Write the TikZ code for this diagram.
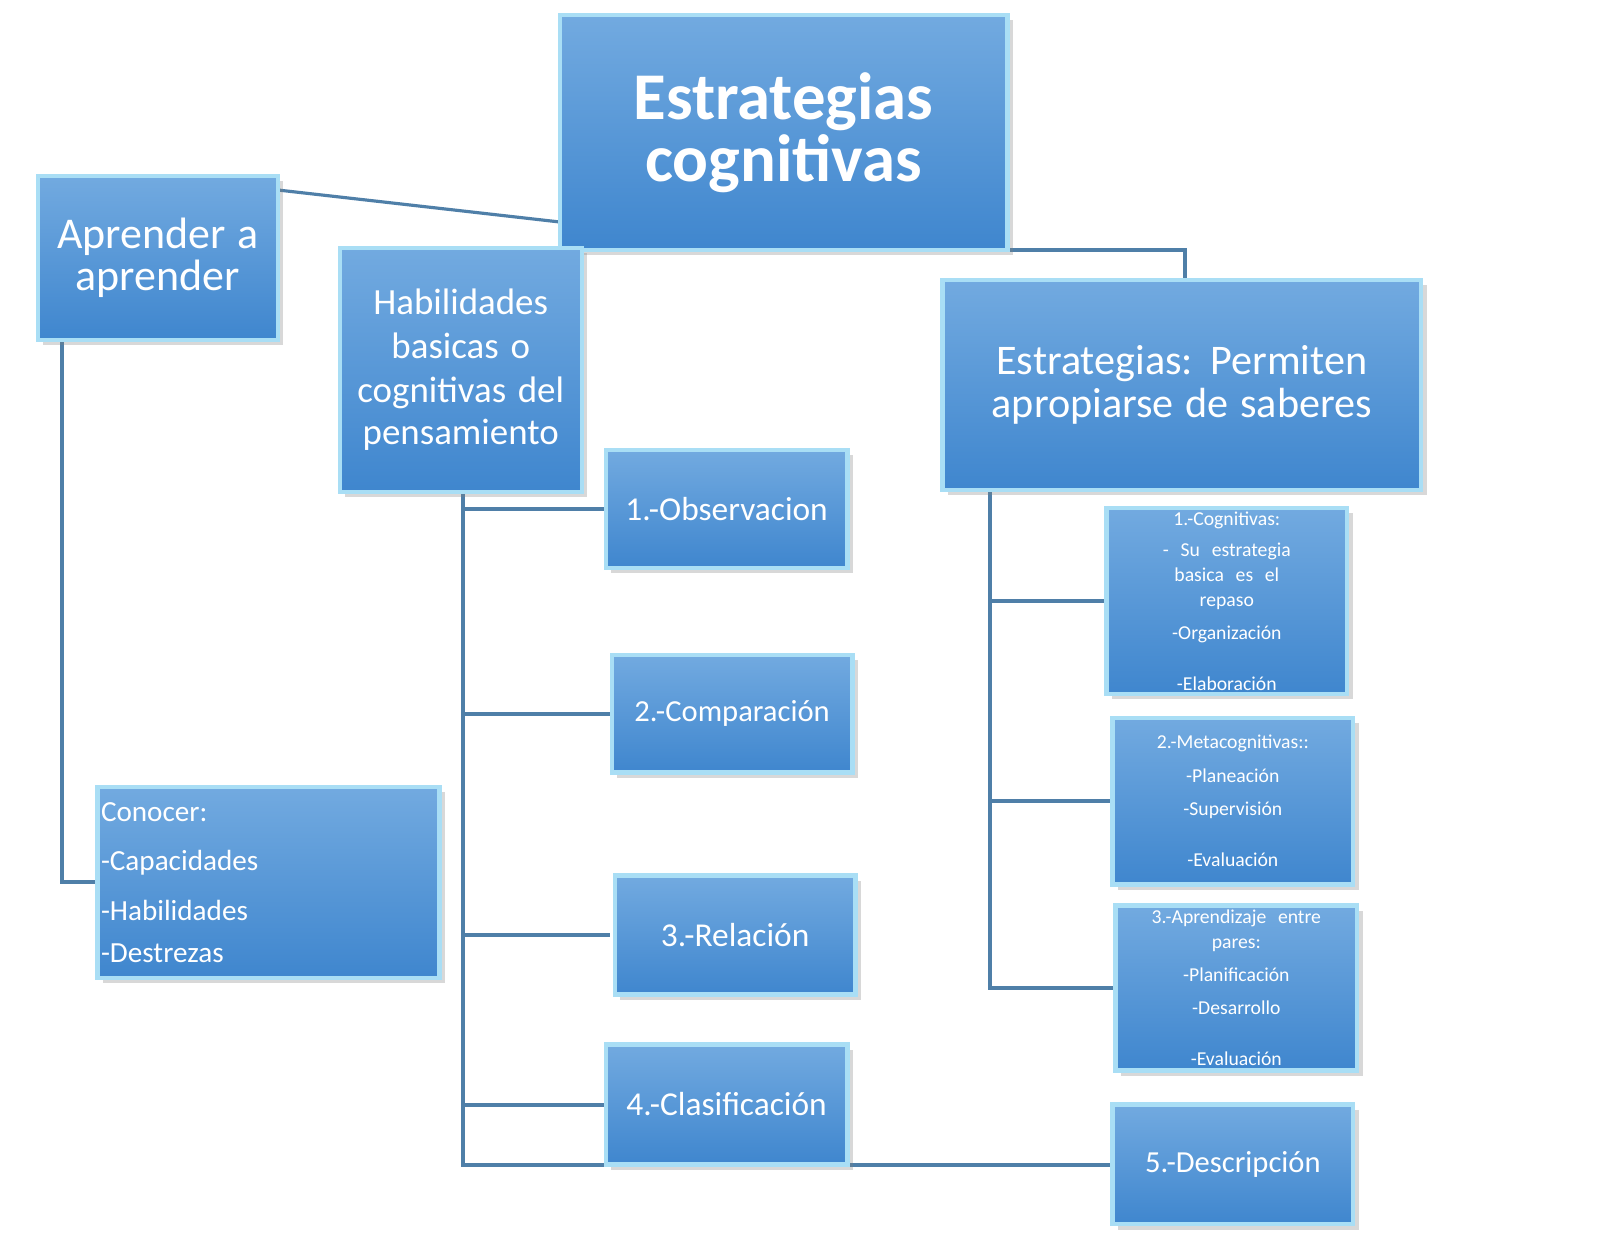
\documentclass[tikz,border=0pt]{standalone}
\usepackage{fontspec}
\setmainfont{Carlito}
\usetikzlibrary{shadows}
\definecolor{btop}{HTML}{72AAE0}
\definecolor{bbot}{HTML}{3F86CE}
\definecolor{bedge}{HTML}{A9DEF5}
\definecolor{lnc}{HTML}{4F7FA8}
\tikzset{
  bx/.style={draw=bedge, line width=1.2pt, top color=btop, bottom color=bbot, text=white, align=center, inner sep=1pt, drop shadow={opacity=0.3,shadow xshift=1.5pt,shadow yshift=-1.5pt}},
  ln/.style={draw=lnc, line width=0.9pt}
}
\newcommand{\bxat}[6]{% name, x1,y1,x2,y2, text
  \node[bx, minimum width={(#4-#2)*0.01cm}, minimum height={(#5-#3)*0.01cm}, text width={(#4-#2)*0.01cm-3pt}] (#1) at ({(#2+#4)/2*0.01},{-(#3+#5)/2*0.01}) {#6};}
\begin{document}
\begin{tikzpicture}
\useasboundingbox[fill=white] (0,0) rectangle (16,-12.37);
\coordinate (h1) at (4.63,-4.92);
\coordinate (hb) at (4.63,-11.65);
\coordinate (e1) at (9.90,-4.90);
\coordinate (eb) at (9.90,-9.88);
\draw[ln] (2.78,-1.90) -- (5.60,-2.22);
\draw[ln] (7.85,-2.50) -- (11.85,-2.50) -- (11.85,-2.80);
\draw[ln] (0.62,-3.40) -- (0.62,-8.82) -- (0.99,-8.82);
\draw[ln] (h1) -- (hb) -- (11.13,-11.65);
\foreach \y in {5.09,7.14,9.35,11.05} \draw[ln] (4.63,-\y) -- (6.10,-\y);
\draw[ln] (e1) -- (eb) -- (11.16,-9.88);
\foreach \y in {6.01,8.01} \draw[ln] (9.90,-\y) -- (11.10,-\y);
\bxat{t}{560}{15}{1008}{250}{\fontsize{19}{23}\selectfont\bfseries Estrategias\\cognitivas}
\bxat{a}{38}{176}{278}{340}{\fontsize{12.5}{15}\selectfont Aprender a\\aprender}
\bxat{h}{340}{248}{582}{492}{\fontsize{10.5}{12.5}\selectfont Habilidades\\basicas o\\cognitivas del\\pensamiento}
\bxat{e}{943}{280}{1422}{490}{\fontsize{12}{14.5}\selectfont Estrategias: Permiten\\apropiarse de saberes}
\bxat{o1}{606}{450}{848}{568}{\fontsize{9.5}{12}\selectfont 1.-Observacion}
\bxat{o2}{612}{655}{853}{773}{\fontsize{8.7}{11}\selectfont 2.-Comparación}
\bxat{o3}{615}{876}{856}{995}{\fontsize{9.5}{12}\selectfont 3.-Relación}
\bxat{o4}{606}{1045}{848}{1165}{\fontsize{9.5}{12}\selectfont 4.-Clasificación}
\node[bx, minimum width=3.39cm, minimum height=1.91cm, text width=3.35cm, align=left, inner sep=1pt] (c) at (2.685,-8.825) {\fontsize{8.3}{14}\selectfont Conocer:\\-Capacidades\\-Habilidades\\-Destrezas};
\bxat{s1}{1107}{526}{1348}{677}{\fontsize{5.6}{7}\selectfont 1.-Cognitivas:\\[2pt]- Su estrategia basica es el\\repaso\\[2.5pt]-Organización\\[2.5pt]-Elaboración}
\bxat{s2}{1113}{718}{1354}{885}{\fontsize{5.6}{7}\selectfont 2.-Metacognitivas::\\[2.5pt]-Planeación\\[2.5pt]-Supervisión\\[2.5pt]-Evaluación}
\bxat{s3}{1116}{906}{1358}{1071}{\fontsize{5.6}{7}\selectfont 3.-Aprendizaje entre\\pares:\\[2.5pt]-Planificación\\[2.5pt]-Desarrollo\\[2.5pt]-Evaluación}
\bxat{s5}{1113}{1105}{1354}{1225}{\fontsize{8.7}{11}\selectfont 5.-Descripción}
\end{tikzpicture}
\end{document}
